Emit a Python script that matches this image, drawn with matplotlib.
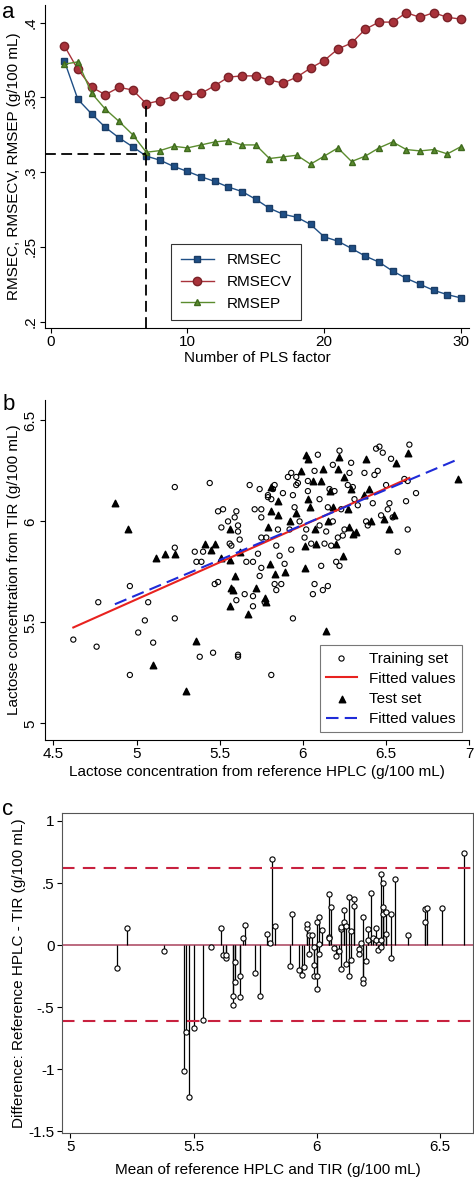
import matplotlib
matplotlib.use("Agg")
import matplotlib.pyplot as plt
import numpy as np

plt.rcParams['font.family'] = ['Liberation Sans', 'DejaVu Sans']

# ---------- Panel a data ----------
pls_factor = list(range(1, 31))
rmsec = [.3747, .3487, .339, .330, .323, .317, .3107, .308, .3038, .3005, .2969, .2938, .290, .287, .2818,
         .2758, .2718, .2698, .265, .2567, .2538, .2489, .2438, .2398, .2338, .2289, .2249, .2209, .218, .2158]
rmsecv = [.3847, .3687, .3569, .3518, .3567, .355, .3458, .3478, .3507, .3516, .3527, .3578, .3636, .3644, .3644,
          .3616, .3596, .3636, .3696, .3747, .3824, .3864, .3956, .4004, .4004, .4067, .4036, .4067, .4036, .4024]
rmsep = [.3722, .3738, .3529, .3422, .334, .3251, .3133, .3144, .3173, .3162, .3182, .3202, .3211, .3182, .3182,
         .3091, .3102, .3113, .3053, .3107, .3162, .3071, .3107, .3162, .3202, .3151, .3142, .3151, .3122, .3171]
opt_factor = 7
opt_rmsep = 0.3118
opt_rmsecv = 0.346

# ---------- Panel b data ----------
train_x = [4.62, 4.77, 4.76, 4.96, 4.96, 5.01, 5.05, 5.07, 5.10, 5.23, 5.23, 5.23, 5.35, 5.36, 5.38, 5.39, 5.40, 5.44,
           5.46, 5.47, 5.49, 5.49, 5.52, 5.51, 5.55, 5.56, 5.57, 5.59, 5.60, 5.60, 5.61, 5.61, 5.62, 5.61, 5.65, 5.66,
           5.68, 5.70, 5.70, 5.70, 5.71, 5.73, 5.74, 5.75, 5.75, 5.74, 5.75, 5.75, 5.77, 5.78, 5.79, 5.79, 5.81, 5.82,
           5.83, 5.83, 5.84, 5.87, 5.86, 5.85, 5.88, 5.89, 5.91, 5.93, 5.94, 5.94, 5.96, 5.95, 5.93, 5.96, 5.97, 5.98,
           6.02, 6.03, 6.03, 6.06, 6.07, 6.09, 6.07, 6.10, 6.10, 6.11, 6.12, 6.13, 6.14, 6.15, 6.15, 6.16, 6.18, 6.19,
           6.20, 6.21, 6.22, 6.22, 6.23, 6.24, 6.25, 6.27, 6.28, 6.29, 6.30, 6.31, 6.33, 6.37, 6.38, 6.39, 6.42, 6.43,
           6.45, 6.44, 6.46, 6.48, 6.47, 6.50, 6.51, 6.52, 6.54, 6.53, 6.57, 6.61, 6.62, 6.63, 6.63, 6.64, 6.68, 5.81,
           5.84, 5.92, 6.01, 6.05, 6.17, 6.18, 5.61]
train_y = [5.415, 5.60, 5.38, 5.24, 5.68, 5.45, 5.51, 5.60, 5.40, 5.52, 5.87, 6.17, 5.85, 5.80, 5.33, 5.80, 5.85, 6.19,
           5.35, 5.69, 5.70, 6.05, 6.06, 5.97, 6.00, 5.89, 5.88, 6.02, 5.61, 6.05, 5.98, 5.95, 5.91, 5.33, 5.64, 5.80,
           6.18, 5.80, 5.63, 5.58, 6.06, 5.84, 6.16, 6.06, 5.77, 5.73, 6.02, 5.92, 5.60, 5.92, 6.12, 6.13, 6.11, 6.16,
           6.18, 5.69, 5.66, 5.69, 5.83, 5.96, 6.14, 5.79, 6.22, 6.24, 5.52, 6.13, 6.22, 6.07, 5.86, 6.18, 6.19, 6.00,
           5.96, 6.15, 6.20, 5.64, 5.69, 6.33, 6.25, 6.11, 5.98, 5.78, 5.66, 5.89, 5.95, 5.68, 6.07, 6.16, 6.28, 6.15,
           5.80, 5.92, 6.35, 5.78, 6.06, 5.93, 5.96, 6.18, 6.24, 6.29, 6.17, 6.11, 6.08, 6.24, 6.00, 5.98, 6.09, 6.23,
           6.25, 6.36, 6.37, 6.34, 6.03, 6.18, 6.06, 6.09, 6.02, 6.31, 5.85, 6.21, 6.10, 5.96, 6.20, 6.38, 6.14, 5.24,
           5.88, 5.96, 5.92, 5.89, 5.88, 6.00, 5.34]
test_x = [4.87, 4.95, 5.12, 5.17, 5.23, 5.10, 5.30, 5.36, 5.41, 5.45, 5.47, 5.51, 5.56, 5.56, 5.56, 5.57, 5.58, 5.59,
          5.62, 5.67, 5.72, 5.77, 5.78, 5.80, 5.79, 5.81, 5.81, 5.83, 5.85, 5.85, 5.89, 5.92, 5.96, 5.99, 6.01, 6.01,
          6.02, 6.03, 6.03, 6.04, 6.06, 6.07, 6.08, 6.11, 6.12, 6.14, 6.15, 6.16, 6.18, 6.20, 6.21, 6.22, 6.24, 6.25,
          6.27, 6.28, 6.29, 6.30, 6.32, 6.37, 6.38, 6.40, 6.41, 6.49, 6.52, 6.56, 6.55, 6.63, 6.93]
test_y = [6.09, 5.96, 5.82, 5.84, 5.84, 5.29, 5.16, 5.41, 5.89, 5.86, 5.89, 5.82, 5.96, 5.81, 5.58, 5.67, 5.66, 5.73,
          5.85, 5.54, 5.67, 5.62, 5.60, 5.79, 5.97, 6.05, 6.17, 5.74, 6.10, 6.03, 5.75, 6.00, 6.04, 6.25, 5.77, 5.88,
          6.33, 6.31, 6.11, 6.07, 6.20, 5.96, 5.89, 6.20, 6.26, 5.46, 6.00, 6.15, 6.07, 5.89, 6.26, 6.32, 5.83, 6.22,
          6.06, 5.97, 6.16, 5.94, 5.95, 6.13, 6.31, 6.16, 6.00, 6.01, 5.96, 6.29, 6.03, 6.34, 6.21]
fit_train_x = [4.62, 6.64]
fit_train_y = [5.475, 6.215]
fit_test_x = [4.87, 6.94]
fit_test_y = [5.59, 6.31]

# ---------- Panel c data ----------
ba_mean = [5.19, 5.23, 5.38, 5.46, 5.47, 5.48, 5.50, 5.54, 5.57, 5.61, 5.62, 5.63, 5.63, 5.66, 5.66, 5.67, 5.67, 5.69,
           5.69, 5.70, 5.71, 5.75, 5.77, 5.80, 5.81, 5.82, 5.83, 5.89, 5.90, 5.93, 5.94, 5.95, 5.96, 5.96, 5.97, 5.97,
           5.98, 5.99, 5.99, 5.99, 6.00, 6.00, 6.00, 6.01, 6.01, 6.01, 6.02, 6.05, 6.05, 6.05, 6.06, 6.07, 6.08, 6.09,
           6.10, 6.10, 6.10, 6.11, 6.11, 6.12, 6.12, 6.13, 6.13, 6.14, 6.14, 6.15, 6.15, 6.17, 6.17, 6.18, 6.19, 6.19,
           6.19, 6.20, 6.21, 6.21, 6.22, 6.23, 6.24, 6.24, 6.25, 6.26, 6.26, 6.26, 6.27, 6.27, 6.27, 6.28, 6.28, 6.30,
           6.30, 6.32, 6.37, 6.44, 6.44, 6.45, 6.51, 6.60]
ba_diff = [-0.185, 0.14, -0.05, -1.01, -0.70, -1.22, -0.67, -0.60, -0.016, 0.134, -0.083, -0.10, -0.083, -0.48, -0.41,
           -0.14, -0.30, -0.42, -0.25, 0.054, 0.16, -0.225, -0.41, 0.09, 0.013, 0.69, 0.15, -0.17, 0.25, -0.20, -0.24,
           -0.18, 0.137, 0.17, 0.08, -0.07, 0.085, -0.25, -0.16, -0.013, 0.19, -0.35, -0.25, 0.008, -0.07, 0.23, 0.12,
           0.067, 0.41, 0.054, 0.31, -0.02, -0.088, -0.048, -0.19, 0.126, 0.145, 0.28, 0.19, -0.153, 0.155, 0.39,
           -0.25, 0.113, -0.12, 0.316, 0.375, -0.032, -0.07, 0.016, 0.23, -0.276, -0.306, -0.13, 0.126, 0.043, 0.42,
           0.06, 0.14, 0.04, -0.04, 0.576, -0.019, 0.04, 0.50, 0.31, 0.25, 0.086, 0.265, -0.10, 0.25, 0.536, 0.083,
           0.19, 0.29, 0.30, 0.30, 0.74]
loa_upper = 0.62
loa_lower = -0.612

fig = plt.figure(figsize=(4.74, 11.91), dpi=100)
FS = 11

# ---------- Panel a ----------
ax = fig.add_axes([0.095, 0.725, 0.895, 0.271])
ax.plot(pls_factor, rmsec, '-s', color='#1f4f86', ms=4, lw=1, mec='#1a3d66', label='RMSEC')
ax.plot(pls_factor, rmsecv, '-o', color='#a8323a', ms=6, lw=1, mec='#7a2228', label='RMSECV')
ax.plot(pls_factor, rmsep, '-^', color='#5b8c2e', ms=5, lw=1, mec='#3f6a1e', label='RMSEP')
ax.set_xlim(-0.4, 30.6)
ax.set_ylim(0.196, 0.412)
ax.plot([ax.get_xlim()[0], opt_factor], [opt_rmsep, opt_rmsep], '--', color='black', lw=1.3, dashes=(6, 3))
ax.plot([opt_factor, opt_factor], [ax.get_ylim()[0], opt_rmsecv], '--', color='black', lw=1.3, dashes=(6, 3))
ax.set_xticks([0, 10, 20, 30])
ax.set_yticks([0.2, 0.25, 0.3, 0.35, 0.4])
ax.set_yticklabels(['.2', '.25', '.3', '.35', '.4'], rotation=90, va='center')
ax.set_xlabel('Number of PLS factor', fontsize=FS, labelpad=1)
ax.set_ylabel('RMSEC, RMSECV, RMSEP (g/100 mL)', fontsize=FS, labelpad=2)
ax.tick_params(labelsize=FS, pad=2)
for s in ['top', 'right']:
    ax.spines[s].set_visible(False)
leg = ax.legend(loc='lower left', bbox_to_anchor=(0.28, 0.0), fontsize=FS, frameon=True, fancybox=False,
                edgecolor='black', borderpad=0.6, handlelength=2.2)
leg.get_frame().set_linewidth(0.8)
fig.text(0.005, 0.998, 'a', fontsize=16, va='top')

# ---------- Panel b ----------
bx = fig.add_axes([0.095, 0.379, 0.895, 0.285])
bx.scatter(train_x, train_y, s=14, facecolors='none', edgecolors='black', linewidths=0.8, label='Training set')
bx.plot(fit_train_x, fit_train_y, color='#e8221f', lw=1.5, label='Fitted values')
bx.scatter(test_x, test_y, s=22, marker='^', color='black', label='Test set')
bx.plot(fit_test_x, fit_test_y, '--', color='#1f2bd8', lw=1.5, dashes=(6, 3), label='Fitted values')
bx.set_xlim(4.45, 7.0)
bx.set_ylim(4.92, 6.6)
bx.set_xticks([4.5, 5, 5.5, 6, 6.5, 7])
bx.set_xticklabels(['4.5', '5', '5.5', '6', '6.5', '7'])
bx.set_yticks([5, 5.5, 6, 6.5])
bx.set_yticklabels(['5', '5.5', '6', '6.5'], rotation=90, va='center')
bx.set_xlabel('Lactose concentration from reference HPLC (g/100 mL)', fontsize=FS, labelpad=3)
bx.set_ylabel('Lactose concentration from TIR (g/100 mL)', fontsize=FS, labelpad=2)
bx.tick_params(labelsize=FS, pad=2)
for s in ['top', 'right']:
    bx.spines[s].set_visible(False)
leg = bx.legend(loc='lower right', fontsize=FS, frameon=True, fancybox=False, edgecolor='#555555',
                handlelength=2.0, borderpad=0.4, labelspacing=0.4, bbox_to_anchor=(1.0, 0.0))
leg.get_frame().set_linewidth(0.8)
fig.text(0.005, 0.669, 'b', fontsize=16, va='top')

# ---------- Panel c ----------
cx = fig.add_axes([0.131, 0.049, 0.867, 0.268])
cx.axhline(0, color='#b0506a', lw=1.2, zorder=1)
cx.vlines(ba_mean, 0, ba_diff, color='black', lw=0.9, zorder=2)
cx.scatter(ba_mean, ba_diff, s=14, facecolors='white', edgecolors='black', linewidths=0.8, zorder=3)
cx.axhline(loa_upper, color='#c8213f', lw=1.5, ls='--', dashes=(6, 4))
cx.axhline(loa_lower, color='#c8213f', lw=1.5, ls='--', dashes=(6, 4))
cx.set_xlim(4.966, 6.635)
cx.set_ylim(-1.51, 1.06)
cx.set_xticks([5, 5.5, 6, 6.5])
cx.set_xticklabels(['5', '5.5', '6', '6.5'])
cx.set_yticks([-1.5, -1, -0.5, 0, 0.5, 1])
cx.set_yticklabels(['-1.5', '-1', '-.5', '0', '.5', '1'])
cx.set_xlabel('Mean of reference HPLC and TIR (g/100 mL)', fontsize=FS, labelpad=6)
cx.set_ylabel('Difference: Reference HPLC - TIR (g/100 mL)', fontsize=FS, labelpad=2)
cx.tick_params(labelsize=FS, pad=2)
for s in cx.spines.values():
    s.set_color('#555555')
fig.text(0.005, 0.329, 'c', fontsize=16, va='top')

fig.savefig('out.png', dpi=100)
